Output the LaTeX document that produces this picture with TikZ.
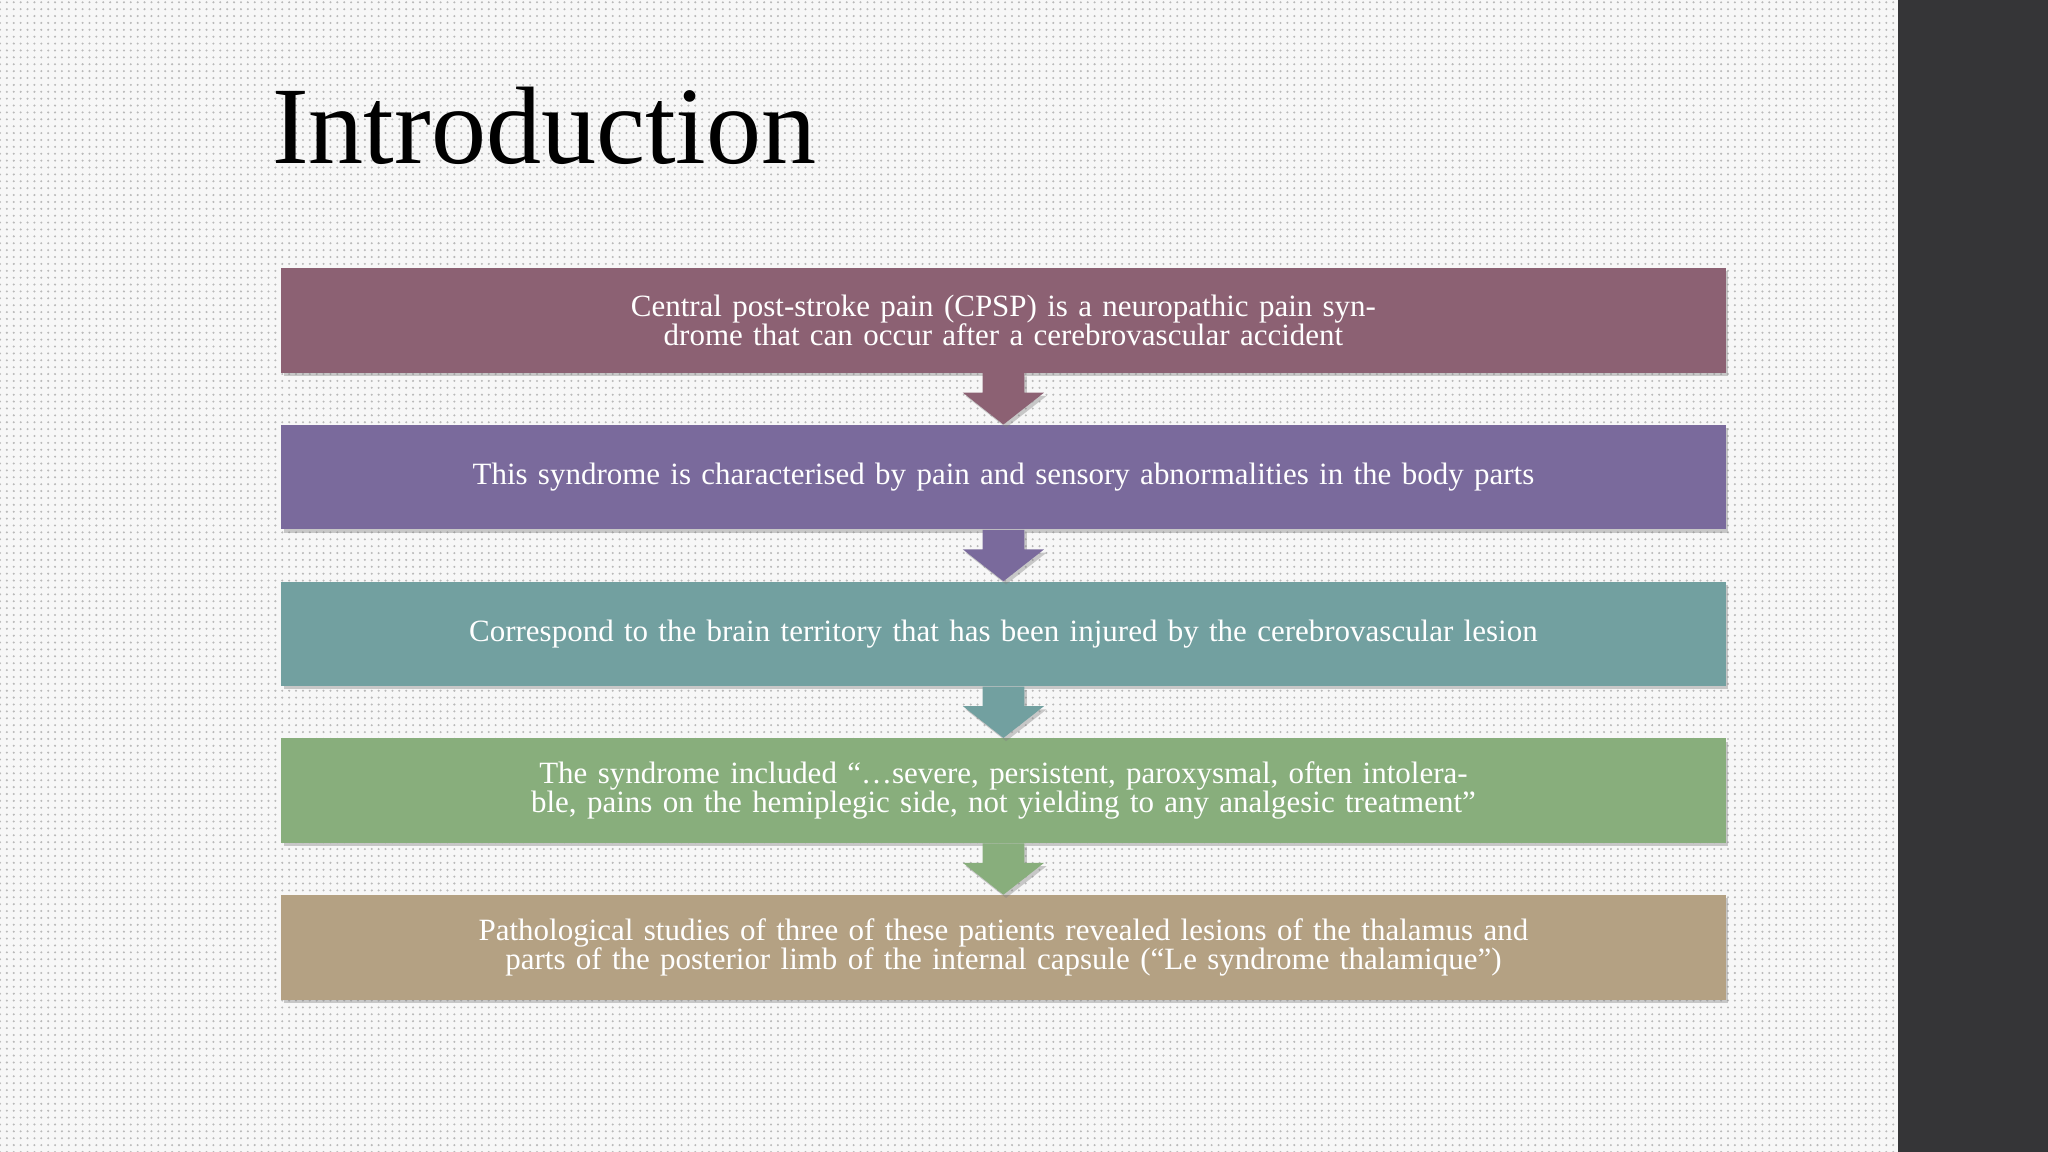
\documentclass[tikz,border=0pt]{standalone}
\usepackage{fontspec}
\setmainfont{Liberation Serif}
\usetikzlibrary{patterns,shadows}
\definecolor{c1}{HTML}{8C6173}
\definecolor{c2}{HTML}{7A6A9C}
\definecolor{c3}{HTML}{72A0A0}
\definecolor{c4}{HTML}{88AE7C}
\definecolor{c5}{HTML}{B4A183}
\definecolor{band}{HTML}{353537}
\tikzset{
  box/.style={minimum width=22.12cm, minimum height=1.6cm, text width=21.6cm, align=center,
    text=white, font=\fontsize{13.5}{12.5}\selectfont, inner sep=0pt,
    drop shadow={shadow xshift=0.04cm, shadow yshift=-0.05cm, opacity=0.4}},
  arr/.style={drop shadow={shadow xshift=0.04cm, shadow yshift=-0.05cm, opacity=0.4}}
}
\newcommand{\flowarrow}[3]{% color, top anchor node, bottom node
  \fill[#1,arr] ([xshift=-0.32cm]#2.south) -- ([xshift=0.32cm]#2.south) -- ([xshift=0.32cm,yshift=-0.3cm]#2.south) -- ([xshift=0.62cm,yshift=-0.3cm]#2.south) -- (#3.north) -- ([xshift=-0.62cm,yshift=-0.3cm]#2.south) -- ([xshift=-0.32cm,yshift=-0.3cm]#2.south) -- cycle;}
\begin{document}
\begin{tikzpicture}[x=0.02cm,y=-0.02cm]
\useasboundingbox (0,0) rectangle (1568,882);
\fill[gray!6] (0,0) rectangle (1453,882);
\fill[pattern=dots, pattern color=gray!55] (0,0) rectangle (1453,882);
\fill[band] (1453,0) rectangle (1568,882);
\node[anchor=base west, font=\fontsize{48}{50}\selectfont, inner sep=0pt] (title) at (208,125) {Introduction};
\node[box, fill=c1, anchor=north west] (b1) at (215,205) {Central post-stroke pain (CPSP) is a neuropathic pain syndrome that can occur after a cerebrovascular accident};
\node[box, fill=c2, anchor=north west] (b2) at (215,325) {This syndrome is characterised by pain and sensory abnormalities in the body parts};
\node[box, fill=c3, anchor=north west] (b3) at (215,445) {Correspond to the brain territory that has been injured by the cerebrovascular lesion};
\node[box, fill=c4, anchor=north west] (b4) at (215,565) {The syndrome included “…severe, persistent, paroxysmal, often intolerable, pains on the hemiplegic side, not yielding to any analgesic treatment”};
\node[box, fill=c5, anchor=north west] (b5) at (215,685) {Pathological studies of three of these patients revealed lesions of the thalamus and parts of the posterior limb of the internal capsule (“Le syndrome thalamique”)};
\flowarrow{c1}{b1}{b2}
\flowarrow{c2}{b2}{b3}
\flowarrow{c3}{b3}{b4}
\flowarrow{c4}{b4}{b5}
\end{tikzpicture}
\end{document}
